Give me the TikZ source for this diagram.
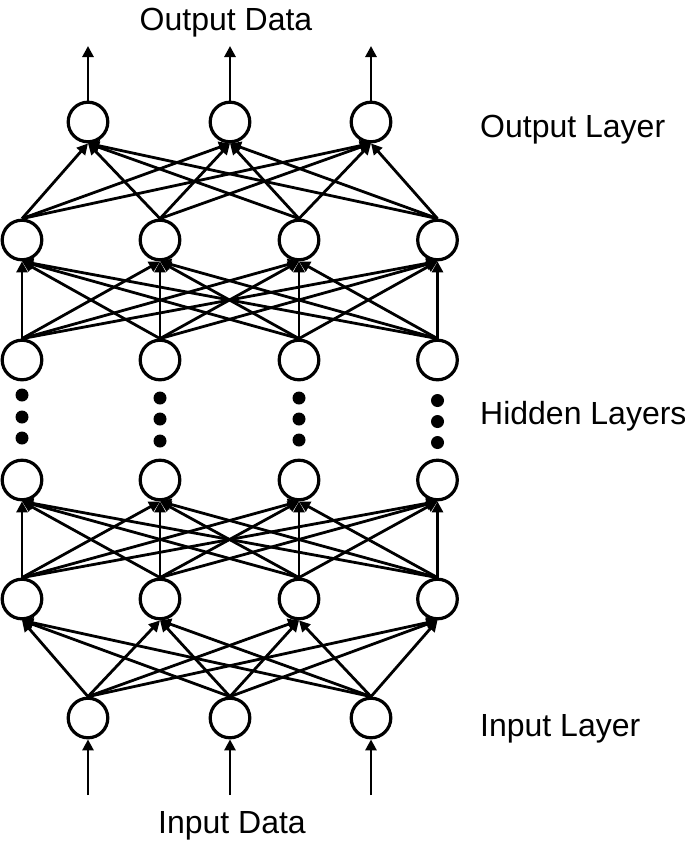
\documentclass[tikz,border=0pt]{standalone}
\usepackage{fontspec}
\setmainfont{Liberation Sans}
\usetikzlibrary{arrows.meta}
\begin{document}
\begin{tikzpicture}[x=1pt,y=-1pt,
  neuron/.style={circle,draw,line width=3.2pt,minimum size=39.6pt,inner sep=0pt,fill=white},
  conn/.style={line width=2.8pt,-{Triangle[length=11pt,width=11pt]}},
  lbl/.style={inner sep=0pt,font=\fontsize{32}{38}\selectfont},
  dotn/.style={circle,fill=black,minimum size=13pt,inner sep=0pt}]
\useasboundingbox (0,0) rectangle (685,844);
% nodes
\foreach \i/\x in {1/88,2/230,3/371}{
  \node[neuron] (o\i) at (\x,122) {};
  \node[neuron] (i\i) at (\x,718) {};
  \coordinate (ot\i) at (\x,46);
  \coordinate (ib\i) at (\x,795);
}
\foreach \i/\x in {1/22,2/160,3/299,4/437.5}{
  \node[neuron] (a\i) at (\x,240) {};
  \node[neuron] (b\i) at (\x,360) {};
  \node[neuron] (c\i) at (\x,480) {};
  \node[neuron] (d\i) at (\x,599) {};
}
% dots
\foreach \i/\x/\ya/\yb/\yc in {1/22/395/417/438,2/160/398/419/441,3/299/398/419/440,4/437.5/400.5/421.5/442.5}{
  \node[dotn] (e\i a) at (\x,\ya) {};
  \node[dotn] (e\i b) at (\x,\yb) {};
  \node[dotn] (e\i c) at (\x,\yc) {};
}
% connections
\foreach \j in {1,2,3}{
  \draw[conn] (o\j.north) -- (ot\j);
  \draw[conn] (ib\j) -- (i\j.south);
  \foreach \k in {1,2,3,4}{
    \draw[conn] (i\j.north) -- (d\k.south);
    \draw[conn] (a\k.north) -- (o\j.south);
  }
}
\foreach \j in {1,2,3,4}{
  \foreach \k in {1,2,3,4}{
    \draw[conn] (d\j.north) -- (c\k.south);
    \draw[conn] (b\j.north) -- (a\k.south);
  }
}
% labels
\node[lbl,anchor=base] (outdata) at (226,30) {Output Data};
\node[lbl,anchor=base] (indata) at (232,833) {Input Data};
\node[lbl,anchor=base west] (outlayer) at (480,137) {Output Layer};
\node[lbl,anchor=base west] (hidlayer) at (480,424) {Hidden Layers};
\node[lbl,anchor=base west] (inlayer) at (480,736) {Input Layer};
\end{tikzpicture}
\end{document}
